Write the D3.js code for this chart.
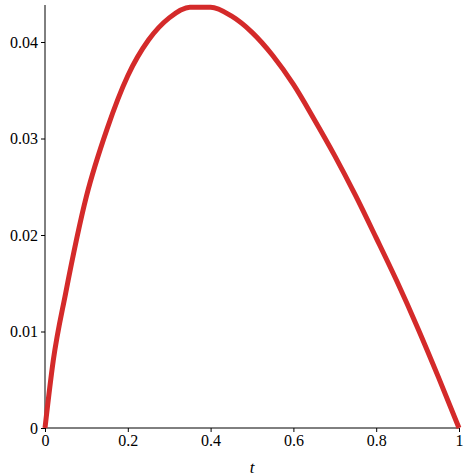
<!DOCTYPE html><html><head><script src="https://cdn.jsdelivr.net/npm/d3@7"></script>
<style>body{margin:0;background:#fff}</style></head><body><svg id="c" width="474" height="475"></svg><script>
const tVals=[0,0.02,0.05,0.1,0.15,0.2,0.25,0.3,0.35,0.4,0.45,0.5,0.55,0.6,0.65,0.7,0.75,0.8,0.85,0.9,0.95,1];
const yVals=[0,0.007,0.014,0.024,0.031,0.0365,0.0402,0.0425,0.0436,0.0436,0.0427,0.041,0.0386,0.0356,0.0320,0.0282,0.0241,0.0197,0.0152,0.0104,0.0053,0];
const xTicks=[0,0.2,0.4,0.6,0.8,1];
const yTicks=[0,0.01,0.02,0.03,0.04];
const svg=d3.select("#c");
const x=d3.scaleLinear().domain([0,1]).range([45,459]);
const y=d3.scaleLinear().domain([0,0.04]).range([428,42]);
const fmt=d=>String(d);
const ax=svg.append("g").attr("transform","translate(0,428)").call(d3.axisBottom(x).tickValues(xTicks).tickSize(4).tickFormat(fmt));
const ay=svg.append("g").attr("transform","translate(45,0)").call(d3.axisLeft(y).tickValues(yTicks).tickSize(4).tickFormat(fmt));
[ax,ay].forEach(a=>{a.selectAll("text").attr("font-family","Liberation Serif").attr("font-size",16).attr("fill","#000");a.select(".domain").attr("stroke","#000");});
ay.select(".domain").attr("d","M0,428V5");
ax.select(".domain").attr("d","M45,0H459");
svg.append("text").attr("x",252).attr("y",473).attr("font-family","Liberation Serif").attr("font-style","italic").attr("font-size",17).attr("text-anchor","middle").text("t");
svg.append("path").datum(tVals.map((t,i)=>[t,yVals[i]])).attr("fill","none").attr("stroke","#d42a2a").attr("stroke-width",5)
 .attr("d",d3.line().x(d=>x(d[0])).y(d=>y(d[1])).curve(d3.curveMonotoneX));
</script></body></html>
